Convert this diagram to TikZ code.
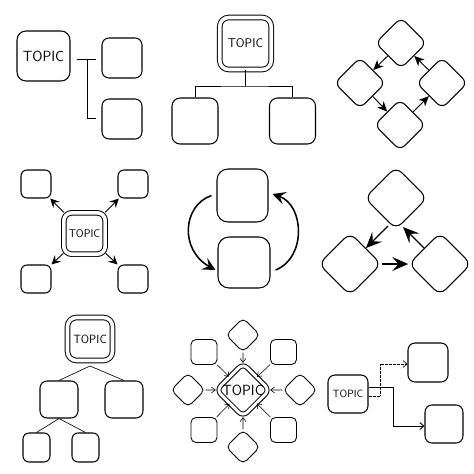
\documentclass[tikz,border=0pt]{standalone}
\usetikzlibrary{arrows.meta,calc}

\begin{document}
\begin{tikzpicture}[x=0.05cm, y=-0.05cm,
    box/.style={draw, line width=1.5pt, rounded corners=0.35cm, inner sep=0pt},
    size/.style 2 args={minimum width=#1, minimum height=#2},
    tilt/.style={box, rotate=45, minimum size=#1},
    twin/.style={double, double distance=0.18cm, line width=1.4pt},
    topic/.style={font=\sffamily\fontsize{#1}{#1}\selectfont},
    link/.style={line width=0.9pt},
    ring/.style={-{Stealth[length=0.5cm, width=0.45cm, inset=0.15cm]}, line width=1.3pt},
    burst/.style={-{Stealth[length=0.45cm, width=0.45cm, inset=0.17cm]}, line width=1.3pt},
    curl/.style={-{Stealth[length=0.65cm, width=0.65cm, inset=0.27cm]}, line width=2.2pt},
    big/.style={-{Stealth[length=0.8cm, width=0.7cm, inset=0.32cm]}, line width=1.7pt},
    inward/.style={-{Straight Barb[length=0.2cm, width=0.3cm]}, line width=0.8pt},
    hook/.style={-{Straight Barb[length=0.2cm, width=0.35cm]}, line width=0.9pt}]

  \fill[white] (0,0) rectangle (474,474);

  \node[box, size={2.65cm}{2.5cm}, rounded corners=0.45cm, topic=21] (t1) at (43.5,56) {TOPIC};
  \node[box, size={2cm}{2cm}] (b1a) at (122,58) {};
  \node[box, size={2cm}{2cm}] (b1b) at (122,119) {};
  \coordinate (j1) at (87,59);
  \draw[link] ($(t1.east)+(6,3)$) -- ($(b1a.west)+(-5,1)$);
  \draw[link] (j1) |- ($(b1b.west)+(-5,-1)$);

  \node[box, twin, size={2.575cm}{2.6cm}, rounded corners=0.45cm, topic=18] (t2) at (245.5,43.5) {TOPIC};
  \node[box, size={2.3cm}{2.3cm}, rounded corners=0.4cm] (b2a) at (195,121) {};
  \node[box, size={2.3cm}{2.3cm}, rounded corners=0.4cm] (b2b) at (292.5,121) {};
  \coordinate (j2) at (245.5,86);
  \draw[link] (t2) -- (j2);
  \draw[link] (b2a.north) |- (j2) -| (b2b.north);

  \node[tilt=1.8cm] (d3t) at (401,43) {};
  \node[tilt=1.8cm] (d3l) at (360,83) {};
  \node[tilt=1.8cm] (d3b) at (400,125) {};
  \node[tilt=1.8cm] (d3r) at (442,83) {};
  \foreach \a/\b in {d3t/d3l, d3l/d3b, d3b/d3r, d3r/d3t}
    \draw[ring] (\a) -- (\b);

  \node[box, twin, size={2.07cm}{2.07cm}, rounded corners=0.4cm, topic=16] (t4) at (84.5,233.5) {TOPIC};
  \foreach \x/\y [count=\i] in {36/184, 133/184, 36/279, 133/279} {
    \node[box, size={1.5cm}{1.4cm}, rounded corners=0.3cm] (s\i) at (\x,\y) {};
    \draw[burst] (t4) -- (s\i);
  }

  \node[box, size={2.55cm}{2.65cm}, rounded corners=0.55cm] (p5a) at (242.5,195.5) {};
  \node[box, size={2.6cm}{2.55cm}, rounded corners=0.55cm] (p5b) at (244,262.5) {};
  \draw[curl] ($(p5a.west)+(-5,0)$) .. controls +(-29,10) and +(-36,-20) .. ($(p5b.west)+(-2,7.5)$);
  \draw[curl] ($(p5b.east)+(5,7.5)$) .. controls +(31,-12) and +(32,11) .. ($(p5a.east)+(4,-1.5)$);

  \node[tilt=2.2cm, rounded corners=0.4cm] (d6t) at (396,198) {};
  \node[tilt=2.2cm, rounded corners=0.4cm] (d6l) at (350,264) {};
  \node[tilt=2.2cm, rounded corners=0.4cm] (d6r) at (440,264) {};
  \draw[big] ($(d6l.east)+(22,-22)$) -- (d6l.east);
  \draw[big] (d6l.south east) -- (d6r.north west);
  \draw[big] (d6r.north) -- ($(d6r.north)+(-21,-21)$);

  \node[box, twin, size={2.25cm}{2.15cm}, rounded corners=0.45cm, topic=17] (t7) at (90,339) {TOPIC};
  \node[box, size={1.9cm}{1.85cm}] (m7a) at (59,399.5) {};
  \node[box, size={1.9cm}{1.85cm}] (m7b) at (124,399.5) {};
  \node[box, size={1.35cm}{1.45cm}, rounded corners=0.3cm] (l7a) at (36.5,447.5) {};
  \node[box, size={1.35cm}{1.45cm}, rounded corners=0.3cm] (l7b) at (85.5,447.5) {};
  \coordinate (j7) at (90,366);
  \draw[link] (m7a.north) -- (j7) -- (m7b.north);
  \draw[link] (l7a.north) -- (m7a.south) -- (l7b.north);

  \node[tilt=1.875cm, twin, rounded corners=0.3cm, double distance=0.15cm] (c8) at (243,390) {};
  \node[topic=21] (c8t) at (c8) {TOPIC};
  \foreach \x/\y [count=\i] in {243/335, 243/447, 188/390, 300/390} {
    \node[tilt=1.2cm, rounded corners=0.25cm, line width=1.2pt] (r\i) at (\x,\y) {};
    \draw[inward] (r\i) -- (c8);
  }
  \foreach \x/\y [count=\i] in {204/352, 283.5/352, 204/430, 283.5/430} {
    \node[box, size={1.3cm}{1.25cm}, rounded corners=0.25cm, line width=1.2pt] (q\i) at (\x,\y) {};
    \draw[inward] (q\i) -- (c8);
  }

  \node[box, size={2cm}{1.9cm}, topic=15] (t9) at (348,394) {TOPIC};
  \node[box, size={2cm}{1.95cm}] (u9) at (428,362.5) {};
  \node[box, size={1.9cm}{1.9cm}] (v9) at (444,424) {};
  \coordinate (k9a) at (380,364);
  \coordinate (k9b) at (393,426);
  \draw[hook, densely dotted] ($(t9.east)+(0,2)$) -| (k9a) -- (u9.west |- k9a);
  \draw[hook, line width=1.3pt] ($(t9.east)+(0,-7)$) -| (k9b) -- (v9.west |- k9b);
\end{tikzpicture}
\end{document}
